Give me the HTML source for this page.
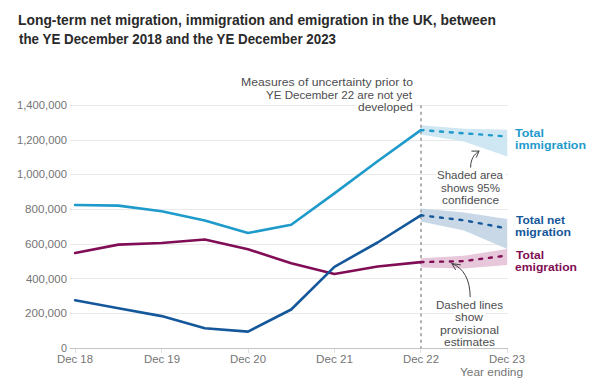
<!DOCTYPE html>
<html><head><meta charset="utf-8">
<style>
html,body{margin:0;padding:0;background:#fff;width:602px;height:388px;overflow:hidden}
svg{display:block;font-family:"Liberation Sans",sans-serif}
.t{font-weight:bold;font-size:13.9px;fill:#2a2a2a}
.ax{font-size:11.2px;fill:#747475}
.an{font-size:11.2px;fill:#4d4d4f;stroke:#fff;stroke-width:3px;paint-order:stroke;stroke-linejoin:round}
.lbi,.lbn,.lbe{font-size:11.8px;font-weight:bold}
.lbi{fill:#1e9acb}.lbn{fill:#14579a}.lbe{fill:#800d55}
</style></head>
<body>
<svg width="602" height="388" viewBox="0 0 602 388">
<!-- gridlines -->
<g stroke="#e9e9e9" stroke-width="1" shape-rendering="crispEdges">
<line x1="70" x2="507.5" y1="105.5" y2="105.5"/>
<line x1="70" x2="507.5" y1="140.5" y2="140.5"/>
<line x1="70" x2="507.5" y1="174.5" y2="174.5"/>
<line x1="70" x2="507.5" y1="209.5" y2="209.5"/>
<line x1="70" x2="507.5" y1="244.5" y2="244.5"/>
<line x1="70" x2="507.5" y1="278.5" y2="278.5"/>
<line x1="70" x2="507.5" y1="313.5" y2="313.5"/>
</g>
<!-- bands -->
<g opacity="0.92">
<polygon fill="#cae6f3" points="420.8,125.3 464,128.8 507.2,129.8 507.2,156.4 464,141.6 420.8,134.5"/>
<polygon fill="#c4d5e5" points="420.8,208.6 464,212.5 507.2,219.1 507.2,249 464,230.4 420.8,221.6"/>
<polygon fill="#e5c3d7" points="420.8,258.3 464,255.8 507.2,249.1 507.2,264.9 464,268.6 420.8,267.4"/>
</g>
<!-- axis -->
<g stroke="#c4c4c4" stroke-width="1" shape-rendering="crispEdges">
<line x1="70" x2="507.5" y1="348.5" y2="348.5"/>
</g>
<g stroke="#e0e0e0" stroke-width="1" shape-rendering="crispEdges">
<line x1="75.5" x2="75.5" y1="349" y2="353"/>
<line x1="161.5" x2="161.5" y1="349" y2="353"/>
<line x1="248.5" x2="248.5" y1="349" y2="353"/>
<line x1="334.5" x2="334.5" y1="349" y2="353"/>
<line x1="507.5" x2="507.5" y1="349" y2="353"/>
</g>
<!-- vertical dashed line -->
<line x1="421" x2="421" y1="105.3" y2="348.5" stroke="#a8a8a8" stroke-width="1.8" stroke-dasharray="3 3.51"/>
<line x1="420.5" x2="420.5" y1="349" y2="353" stroke="#e0e0e0" shape-rendering="crispEdges"/>
<!-- lines -->
<g fill="none" stroke-width="2.6" stroke-linejoin="round" stroke-linecap="round">
<polyline stroke="#1e9acb" points="75.1,205 118.4,205.6 161.6,211.3 204.8,220.4 248,233 291.2,224.8 334.4,193.4 377.6,161.3 420.8,130.1"/>
<polyline stroke="#800d55" points="75.1,253 118.4,244.6 161.6,243 204.8,239.5 248,249.2 291.2,263.3 334.4,274 377.6,266.5 420.8,262.1"/>
<polyline stroke="#14579a" points="75.1,300.2 118.4,308.3 161.6,316.1 204.8,328.3 248,331.6 291.2,309.5 334.4,266.8 377.6,242.5 420.8,215.3"/>
</g>
<g fill="none" stroke-width="2.4" stroke-dasharray="3 6.8" stroke-dashoffset="0.5" stroke-linecap="round">
<polyline stroke="#1e9acb" points="421,130.1 464,133.3 507.2,136.5"/>
<polyline stroke="#800d55" points="421,262.1 464,261.1 507.2,255.5"/>
<polyline stroke="#14579a" points="421,215.3 464,220.3 507.2,228.5"/>
</g>

<text class="t" x="18.00" y="25.4" textLength="478.00" lengthAdjust="spacingAndGlyphs">Long-term net migration, immigration and emigration in the UK, between</text>
<text class="t" x="19.00" y="44.4" textLength="317.00" lengthAdjust="spacingAndGlyphs">the YE December 2018 and the YE December 2023</text>
<text class="ax" x="17.00" y="109.2" textLength="50.00" lengthAdjust="spacingAndGlyphs">1,400,000</text>
<text class="ax" x="17.00" y="143.9" textLength="50.00" lengthAdjust="spacingAndGlyphs">1,200,000</text>
<text class="ax" x="17.00" y="178.4" textLength="50.00" lengthAdjust="spacingAndGlyphs">1,000,000</text>
<text class="ax" x="25.00" y="213.1" textLength="42.00" lengthAdjust="spacingAndGlyphs">800,000</text>
<text class="ax" x="25.00" y="247.8" textLength="42.00" lengthAdjust="spacingAndGlyphs">600,000</text>
<text class="ax" x="26.00" y="282.7" textLength="41.00" lengthAdjust="spacingAndGlyphs">400,000</text>
<text class="ax" x="25.00" y="317.4" textLength="42.00" lengthAdjust="spacingAndGlyphs">200,000</text>
<text class="ax" x="61.00" y="352.1" textLength="6.00" lengthAdjust="spacingAndGlyphs">0</text>
<text class="ax" x="57.00" y="363.3" textLength="36.00" lengthAdjust="spacingAndGlyphs">Dec 18</text>
<text class="ax" x="144.00" y="363.3" textLength="36.00" lengthAdjust="spacingAndGlyphs">Dec 19</text>
<text class="ax" x="230.00" y="363.3" textLength="36.00" lengthAdjust="spacingAndGlyphs">Dec 20</text>
<text class="ax" x="316.00" y="363.3" textLength="37.00" lengthAdjust="spacingAndGlyphs">Dec 21</text>
<text class="ax" x="403.00" y="363.3" textLength="36.00" lengthAdjust="spacingAndGlyphs">Dec 22</text>
<text class="ax" x="489.00" y="363.3" textLength="36.00" lengthAdjust="spacingAndGlyphs">Dec 23</text>
<text class="ax" x="460.00" y="376.3" textLength="63.00" lengthAdjust="spacingAndGlyphs">Year ending</text>
<rect x="240.2" y="76.8" width="174.2" height="11.6" fill="#fff"/>
<text class="an" x="241.00" y="86.1" textLength="172.00" lengthAdjust="spacingAndGlyphs">Measures of uncertainty prior to</text>
<rect x="264.8" y="89.3" width="149.6" height="11.6" fill="#fff"/>
<text class="an" x="266.00" y="98.6" textLength="146.00" lengthAdjust="spacingAndGlyphs">YE December 22 are not yet</text>
<rect x="356.3" y="101.3" width="58.2" height="11.6" fill="#fff"/>
<text class="an" x="358.00" y="110.6" textLength="55.00" lengthAdjust="spacingAndGlyphs">developed</text>
<rect x="435.8" y="170.0" width="69.7" height="11.6" fill="#fff"/>
<text class="an" x="437.00" y="179.3" textLength="66.00" lengthAdjust="spacingAndGlyphs">Shaded area</text>
<rect x="440.0" y="182.3" width="61.3" height="11.6" fill="#fff"/>
<text class="an" x="441.00" y="191.6" textLength="59.00" lengthAdjust="spacingAndGlyphs">shows 95%</text>
<rect x="440.0" y="194.3" width="60.5" height="11.6" fill="#fff"/>
<text class="an" x="442.00" y="203.6" textLength="57.00" lengthAdjust="spacingAndGlyphs">confidence</text>
<rect x="434.6" y="299.6" width="70.5" height="11.6" fill="#fff"/>
<text class="an" x="436.00" y="308.9" textLength="67.00" lengthAdjust="spacingAndGlyphs">Dashed lines</text>
<rect x="453.7" y="311.5" width="31.9" height="11.6" fill="#fff"/>
<text class="an" x="455.00" y="320.8" textLength="28.00" lengthAdjust="spacingAndGlyphs">show</text>
<rect x="438.8" y="324.3" width="61.4" height="11.6" fill="#fff"/>
<text class="an" x="440.00" y="333.6" textLength="59.00" lengthAdjust="spacingAndGlyphs">provisional</text>
<rect x="442.2" y="336.3" width="54.7" height="11.6" fill="#fff"/>
<text class="an" x="444.00" y="345.6" textLength="51.00" lengthAdjust="spacingAndGlyphs">estimates</text>
<text class="lbi" x="515.00" y="136.5" textLength="29.00" lengthAdjust="spacingAndGlyphs">Total</text>
<text class="lbi" x="515.00" y="149.0" textLength="71.00" lengthAdjust="spacingAndGlyphs">immigration</text>
<text class="lbn" x="516.00" y="223.7" textLength="49.00" lengthAdjust="spacingAndGlyphs">Total net</text>
<text class="lbn" x="515.00" y="236.2" textLength="56.00" lengthAdjust="spacingAndGlyphs">migration</text>
<text class="lbe" x="516.00" y="258.6" textLength="28.00" lengthAdjust="spacingAndGlyphs">Total</text>
<text class="lbe" x="515.00" y="270.6" textLength="62.00" lengthAdjust="spacingAndGlyphs">emigration</text>
<!-- arrows -->
<g fill="none" stroke="#414042" stroke-width="1" stroke-linecap="round">
<path d="M470.6,167.2 C470.6,160 473.5,154.5 479,151.1"/>
<path d="M471.8,151.1 L479,151.1 L476.4,157.2"/>
<path d="M470.2,296.7 C470,280 464,268 451.9,263.6"/>
<path d="M460.4,264.8 L451.9,263.6 L455.5,269.7"/>
</g>
</svg>
</body></html>
